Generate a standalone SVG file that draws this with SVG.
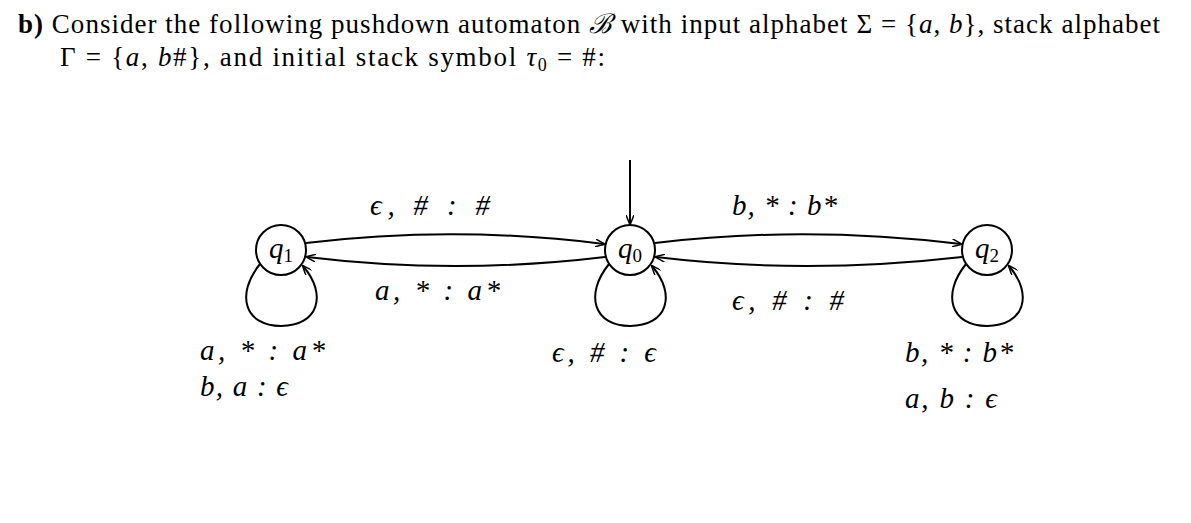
<svg xmlns="http://www.w3.org/2000/svg" width="1191" height="523" viewBox="0 0 1191 523">
<style>
.t{font-family:"Liberation Serif",serif;font-size:27px;fill:#000}
.m{font-family:"Liberation Serif",serif;font-size:29px;font-style:italic;fill:#000}
.n{fill:#fff;stroke:#000;stroke-width:2}
.e{fill:none;stroke:#000;stroke-width:2;marker-end:url(#ah)}
</style>
<defs><marker id="ah" markerWidth="10" markerHeight="8" refX="9" refY="4" orient="auto" markerUnits="userSpaceOnUse"><path d="M0,0 L10,4 L0,8" fill="none" stroke="#000" stroke-width="1.5"/></marker></defs>
<rect width="1191" height="523" fill="#fff"/>
<text x="18" y="33" class="t" textLength="1142" lengthAdjust="spacing"><tspan font-weight="bold">b)</tspan> Consider the following pushdown automaton <tspan font-style="italic">ℬ</tspan> with input alphabet Σ = {<tspan font-style="italic">a</tspan>, <tspan font-style="italic">b</tspan>}, stack alphabet</text>
<text x="60" y="66" class="t" textLength="545" lengthAdjust="spacing">Γ = {<tspan font-style="italic">a</tspan>, <tspan font-style="italic">b</tspan>#}, and initial stack symbol <tspan font-style="italic">τ</tspan><tspan font-size="18" dy="5">0</tspan><tspan dy="-5"> = #:</tspan></text>
<g id="edges">
<path class="e" d="M630,160 L630,224"/>
<path class="e" d="M306,243 Q455,225 604,244"/>
<path class="e" d="M605,257 Q455,275 307,257"/>
<path class="e" d="M655,243 Q805,225 961,244"/>
<path class="e" d="M962,257 Q805,275 656,257"/>
<path class="e" d="M260,264 C235,295 245,326 281,326 C318,326 328,295 303,266"/>
<path class="e" d="M609,264 C584,295 594,326 630,326 C667,326 677,295 652,266"/>
<path class="e" d="M966,264 C941,295 951,326 987,326 C1024,326 1034,295 1009,266"/>
</g>
<g id="q1"><circle class="n" cx="281" cy="250" r="25"/><text x="281" y="258" class="m" text-anchor="middle">q<tspan font-size="19" font-style="normal" dy="4">1</tspan></text></g>
<g id="q0"><circle class="n" cx="630" cy="250" r="25"/><text x="630" y="258" class="m" text-anchor="middle">q<tspan font-size="19" font-style="normal" dy="4">0</tspan></text></g>
<g id="q2"><circle class="n" cx="987" cy="250" r="25"/><text x="987" y="258" class="m" text-anchor="middle">q<tspan font-size="19" font-style="normal" dy="4">2</tspan></text></g>
<g id="labels" class="m">
<text x="370" y="215" textLength="120" lengthAdjust="spacing">ϵ, # : #</text>
<text x="375" y="300" textLength="125" lengthAdjust="spacing">a, * : a*</text>
<text x="732" y="215" textLength="105" lengthAdjust="spacing">b, * : b*</text>
<text x="732" y="310" textLength="112" lengthAdjust="spacing">ϵ, # : #</text>
<text x="200" y="360" textLength="125" lengthAdjust="spacing">a, * : a*</text>
<text x="200" y="396" textLength="88" lengthAdjust="spacing">b, a : ϵ</text>
<text x="552" y="362" textLength="104" lengthAdjust="spacing">ϵ, # : ϵ</text>
<text x="905" y="362" textLength="108" lengthAdjust="spacing">b, * : b*</text>
<text x="905" y="408" textLength="92" lengthAdjust="spacing">a, b : ϵ</text>
</g>
</svg>
